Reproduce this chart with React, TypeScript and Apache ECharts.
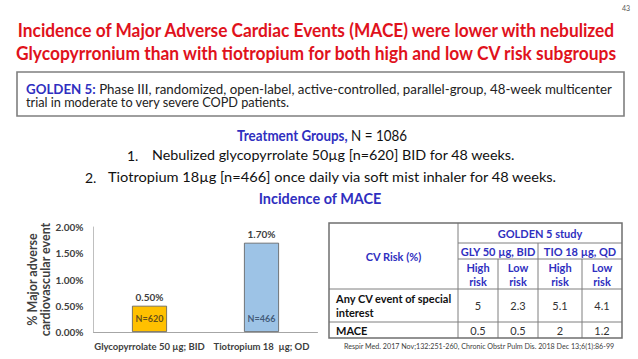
import React, { useEffect, useRef } from "react";
import * as echarts from "echarts";

// ---------- data ----------
const categories = ["Glycopyrrolate 50 µg; BID", "Tiotropium 18  µg; OD"];
const maceIncidence = [0.5, 1.7];
const sampleSizes = ["N=620", "N=466"];
const yMin = 0;
const yMax = 2;
const yStep = 0.5;
const tableStudy = "GOLDEN 5 study";
const tableArms = ["GLY 50 µg, BID", "TIO 18 µg, QD"];
const tableRisk = ["High\nrisk", "Low\nrisk", "High\nrisk", "Low\nrisk"];
const tableRows = ["Any CV event of special\ninterest", "MACE"];
const anyCvEvent = [5, 2.3, 5.1, 4.1];
const maceByRisk = [0.5, 0.5, 2, 1.2];

const FONT = "Lato";
const RED = "#E0121C";
const BLUE = "#2F2FC0";
const DARK = "#404040";

let ctx: CanvasRenderingContext2D | null = null;
function measure(text: string, size: number, weight: string | number = "normal") {
  if (!ctx) ctx = document.createElement("canvas").getContext("2d");
  ctx!.font = `${weight} ${size}px ${FONT}`;
  return ctx!.measureText(text).width;
}

function fitText(
  text: string,
  x: number,
  y: number,
  target: number | null,
  size: number,
  weight: string | number,
  fill: string,
  align: "left" | "center" | "right" = "left",
  extra: any = {},
  measured?: number
) {
  const w = measured ?? measure(text, size, weight);
  const sx = target ? target / w : 1;
  return {
    type: "text",
    x,
    y,
    scaleX: sx,
    style: {
      text,
      fontSize: size,
      fontWeight: weight,
      fontFamily: FONT,
      fill,
      align,
      textAlign: align,
      verticalAlign: "middle",
      textVerticalAlign: "middle",
      ...extra,
    },
  };
}

function plainText(text: string, x: number, y: number, size: number, weight: string | number, fill: string, align: string = "center", extra: any = {}) {
  return {
    type: "text",
    x,
    y,
    style: {
      text,
      fontSize: size,
      fontWeight: weight,
      fontFamily: FONT,
      fill,
      align,
      textAlign: align,
      verticalAlign: "middle",
      textVerticalAlign: "middle",
      ...extra,
    },
  };
}

function buildGraphics() {
  const g: any[] = [];
  // page number
  g.push(plainText("43", 626, 8, 7, "normal", "#555", "center"));
  // title
  g.push(fitText("Incidence of Major Adverse Cardiac Events (MACE) were lower with nebulized", 316, 30, 599, 19, "bold", RED, "center"));
  g.push(fitText("Glycopyrronium than with tiotropium for both high and low CV risk subgroups", 316, 53, 602, 19, "bold", RED, "center"));

  // study box
  g.push({
    type: "rect",
    shape: { x: 17, y: 72, width: 607, height: 44 },
    style: { fill: "#fff", stroke: "#7F7F7F", lineWidth: 1.6 },
  });
  const b1 = "GOLDEN 5:";
  const r1 = " Phase III, randomized, open-label, active-controlled, parallel-group, 48-week multicenter";
  const w1 = measure(b1, 12.5, "bold") + measure(r1, 12.5, "normal");
  g.push(
    fitText(`{b|${b1}}${r1}`, 26, 89, 586, 12.5, "normal", "#222", "left", {
      rich: { b: { fontWeight: "bold", fill: BLUE, fontSize: 12.5, fontFamily: FONT } },
    }, w1)
  );
  g.push(fitText("trial in moderate to very severe COPD patients.", 26, 103, 264, 12.5, "normal", "#222", "left"));

  // treatment groups
  const tb = "Treatment Groups,";
  const tr = " N = 1086";
  const tw = measure(tb, 14.5, "bold") + measure(tr, 14.5, "normal");
  g.push(
    fitText(`{b|${tb}}${tr}`, 322, 135, 170, 14.5, "normal", "#111", "center", {
      rich: { b: { fontWeight: "bold", fill: BLUE, fontSize: 14.5, fontFamily: FONT } },
    }, tw)
  );
  g.push(plainText("1.", 127, 155, 14, "normal", "#111", "left"));
  g.push(fitText("Nebulized glycopyrrolate 50µg [n=620] BID for 48 weeks.", 152, 155, 363, 14, "normal", "#111", "left"));
  g.push(plainText("2.", 85, 177, 14, "normal", "#111", "left"));
  g.push(fitText("Tiotropium 18µg [n=466] once daily via soft mist inhaler for 48 weeks.", 108, 177, 450, 14, "normal", "#111", "left"));
  g.push(fitText("Incidence of MACE", 320, 198, 123, 14.5, "bold", BLUE, "center"));

  // table
  const L = 329, R = 622, T = 223, B = 338;
  const cx = [458, 498, 538, 582, 622];
  const ry = [223, 243, 259, 289, 322, 338];
  const lc = "#7F7F7F";
  const ln = (x1: number, y1: number, x2: number, y2: number) =>
    g.push({ type: "line", shape: { x1, y1, x2, y2 }, style: { stroke: lc, lineWidth: 1 } });
  ln(cx[0], ry[1], R, ry[1]);
  ln(cx[0], ry[2], R, ry[2]);
  ln(L, ry[3], R, ry[3]);
  ln(L, ry[4], R, ry[4]);
  ln(cx[0], T, cx[0], B);
  ln(cx[1], ry[2], cx[1], B);
  ln(cx[2], ry[1], cx[2], B);
  ln(cx[3], ry[2], cx[3], B);
  g.push({
    type: "rect",
    shape: { x: L, y: T, width: R - L, height: B - T },
    style: { fill: "none", stroke: "#6F6F6F", lineWidth: 1.5 },
  });
  const colC = [0, 1, 2, 3].map((i) => (cx[i] + cx[i + 1]) / 2);
  g.push(plainText(tableStudy, (cx[0] + R) / 2, (ry[0] + ry[1]) / 2, 11, "bold", BLUE));
  g.push(plainText(tableArms[0], (cx[0] + cx[2]) / 2, (ry[1] + ry[2]) / 2, 11, "bold", BLUE));
  g.push(plainText(tableArms[1], (cx[2] + R) / 2, (ry[1] + ry[2]) / 2, 11, "bold", BLUE));
  tableRisk.forEach((t, i) =>
    g.push(plainText(t, colC[i], (ry[2] + ry[3]) / 2, 11, "bold", BLUE, "center", { lineHeight: 14 }))
  );
  g.push(plainText("CV Risk (%)", (L + cx[0]) / 2, (ry[0] + ry[3]) / 2, 11, "bold", BLUE));
  g.push(plainText(tableRows[0], 336, (ry[3] + ry[4]) / 2, 11, "bold", "#111", "left", { lineHeight: 13.5 }));
  g.push(plainText(tableRows[1], 336, (ry[4] + ry[5]) / 2, 11, "bold", "#111", "left"));
  anyCvEvent.forEach((v, i) => g.push(plainText(String(v), colC[i], (ry[3] + ry[4]) / 2, 11, "normal", "#333")));
  maceByRisk.forEach((v, i) => g.push(plainText(String(v), colC[i], (ry[4] + ry[5]) / 2, 11, "normal", "#333")));

  // footnote
  g.push(
    fitText("Respir Med. 2017 Nov;132:251-260, Chronic Obstr Pulm Dis. 2018 Dec 13;6(1):86-99", 344, 346, 271, 7.5, "normal", "#404040", "left")
  );
  return g;
}

export default function App() {
  const ref = useRef<HTMLDivElement>(null);
  useEffect(() => {
    if (!ref.current) return;
    const chart = echarts.init(ref.current, null, { renderer: "svg" });
    const option: any = {
      animation: false,
      backgroundColor: "#ffffff",
      textStyle: { fontFamily: FONT },
      grid: { left: 93.5, top: 227, width: 224, height: 105, containLabel: false },
      xAxis: {
        type: "category",
        data: categories,
        axisLine: { show: true, lineStyle: { color: "#A6A6A6", width: 1 } },
        axisTick: { show: false },
        axisLabel: { interval: 0, fontSize: 9.5, fontWeight: "bold", color: DARK, fontFamily: FONT, margin: 9 },
      },
      yAxis: {
        type: "value",
        min: yMin,
        max: yMax,
        interval: yStep,
        axisLine: { show: true, lineStyle: { color: "#BFBFBF", width: 1 } },
        axisTick: { show: false },
        splitLine: { show: false },
        axisLabel: {
          fontSize: 10,
          fontWeight: "bold",
          color: DARK,
          fontFamily: FONT,
          margin: 10,
          formatter: (v: number) => v.toFixed(2) + "%",
        },
        name: "% Major adverse\ncardiovascular event",
        nameLocation: "middle",
        nameRotate: 90,
        nameGap: 34,
        nameTextStyle: { fontSize: 12.5, fontWeight: "bold", color: DARK, fontFamily: FONT, lineHeight: 13 },
      },
      series: [
        {
          type: "bar",
          barWidth: 35,
          data: maceIncidence.map((v, i) => ({
            value: v,
            itemStyle: { color: i === 0 ? "#FFC000" : "#9DC3E6", borderColor: "#595959", borderWidth: 0.8 },
          })),
          label: {
            show: true,
            position: "top",
            distance: 4,
            fontSize: 10,
            fontWeight: "bold",
            color: DARK,
            fontFamily: FONT,
            formatter: (p: any) => Number(p.value).toFixed(2) + "%",
          },
        },
        {
          type: "scatter",
          symbolSize: 0,
          silent: true,
          data: sampleSizes.map((s, i) => ({
            value: [i, 0],
            label: { color: i === 0 ? "#3A3020" : "#2B3F5C" },
          })),
          label: {
            show: true,
            position: "top",
            distance: 9,
            fontSize: 9,
            fontWeight: "bold",
            fontFamily: FONT,
            formatter: (p: any) => sampleSizes[p.dataIndex],
          },
          z: 5,
        },
      ],
      graphic: { elements: buildGraphics() },
    };
    chart.setOption(option);
    return () => chart.dispose();
  }, []);
  return (
    <div
      ref={ref}
      style={{ position: "fixed", left: 0, top: 0, width: 638, height: 359, background: "#fff" }}
    />
  );
}
